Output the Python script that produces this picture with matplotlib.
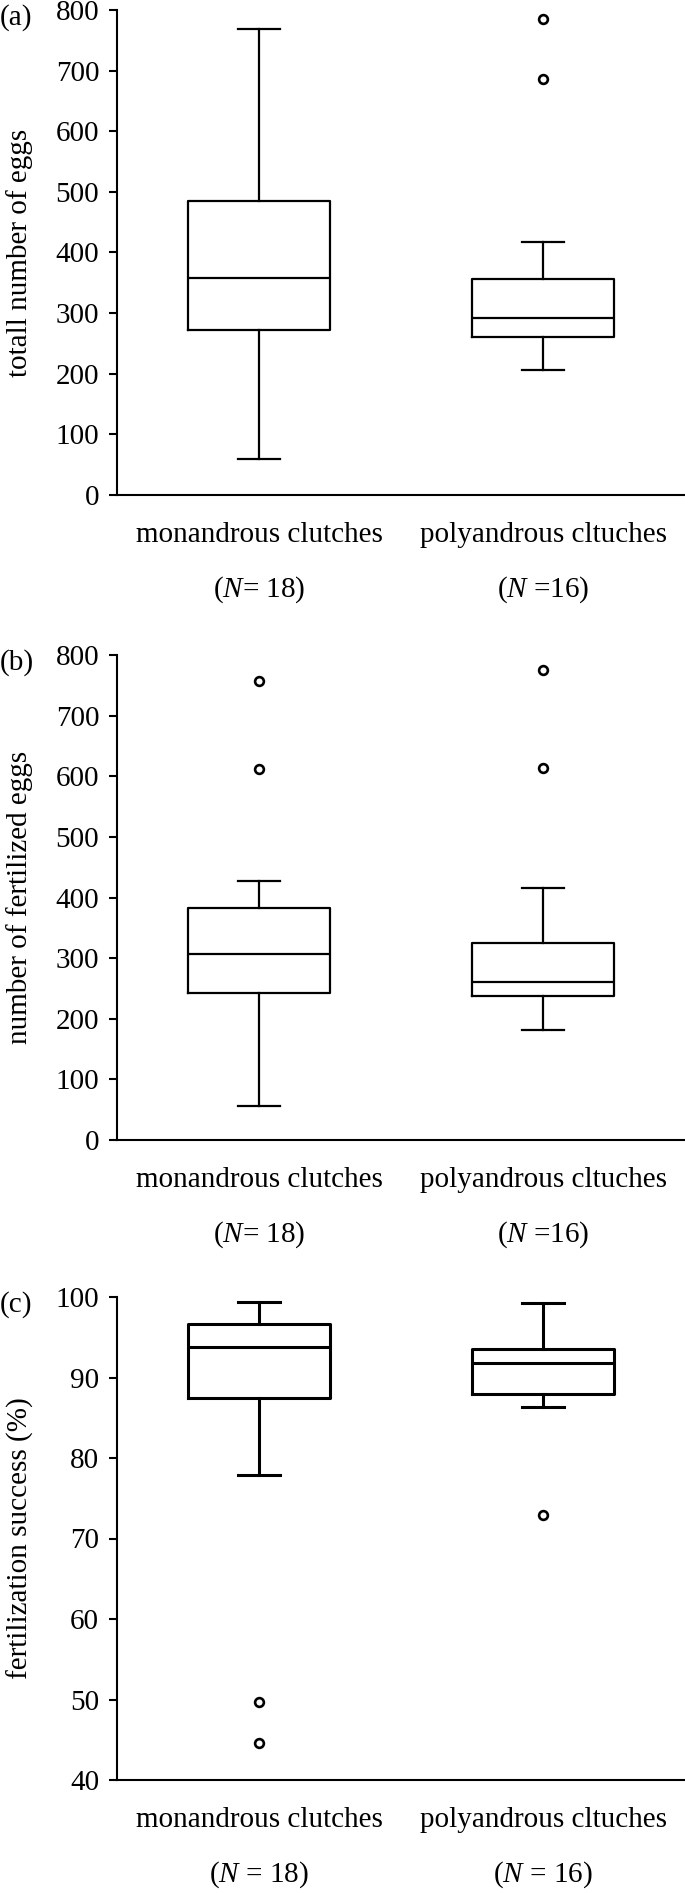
import matplotlib
matplotlib.use("Agg")
import matplotlib.pyplot as plt

plt.rcParams['font.family'] = ['Liberation Serif', 'DejaVu Serif']
plt.rcParams['mathtext.fontset'] = 'custom'
plt.rcParams['mathtext.rm'] = 'Liberation Serif'
plt.rcParams['mathtext.it'] = 'Liberation Serif:italic'

# ---- data ----
categories = ["monandrous clutches", "polyandrous cltuches"]

# panel (a): total number of eggs  [low whisker, Q1, median, Q3, high whisker]
eggs_mono = [60, 272, 358, 485, 768]
eggs_poly = [207, 261, 292, 356, 418]
eggs_mono_out = []
eggs_poly_out = [686, 785]

# panel (b): number of fertilized eggs
fert_mono = [56, 243, 307, 382, 428]
fert_poly = [181, 237, 260, 325, 415]
fert_mono_out = [612, 757]
fert_poly_out = [613, 775]

# panel (c): fertilization success (%)
succ_mono = [77.9, 87.4, 93.8, 96.6, 99.4]
succ_poly = [86.3, 87.9, 91.8, 93.6, 99.3]
succ_mono_out = [49.7, 44.6]
succ_poly_out = [72.9]

n_labels_ab = [r"($\mathit{N}$= 18)", r"($\mathit{N}$ =16)"]
n_labels_c = [r"($\mathit{N}$ = 18)", r"($\mathit{N}$ = 16)"]

panels = [
    dict(tag="(a)", ylabel="totall number of eggs", ylim=(0, 800), ticks=list(range(0, 801, 100)),
         boxes=[(eggs_mono, eggs_mono_out), (eggs_poly, eggs_poly_out)], nlab=n_labels_ab,
         rect=(10, 495), lw=1.6),
    dict(tag="(b)", ylabel="number of fertilized eggs", ylim=(0, 800), ticks=list(range(0, 801, 100)),
         boxes=[(fert_mono, fert_mono_out), (fert_poly, fert_poly_out)], nlab=n_labels_ab,
         rect=(655, 1140), lw=1.6),
    dict(tag="(c)", ylabel="fertilization success (%)", ylim=(40, 100), ticks=list(range(40, 101, 10)),
         boxes=[(succ_mono, succ_mono_out), (succ_poly, succ_poly_out)], nlab=n_labels_c,
         rect=(1297, 1780), lw=2.2),
]

W, H = 685, 1893
fig = plt.figure(figsize=(W / 100, H / 100), dpi=100)
FS = 21
left_px = 117

for p in panels:
    top, bot = p["rect"]
    ax = fig.add_axes([left_px / W, 1 - bot / H, 1 - left_px / W, (bot - top) / H])
    stats = []
    for vals, outs in p["boxes"]:
        lo, q1, med, q3, hi = vals
        stats.append(dict(whislo=lo, q1=q1, med=med, q3=q3, whishi=hi, fliers=outs))
    lw = p["lw"]
    ax.bxp(stats, positions=[1, 2], widths=0.5, capwidths=0.145, showfliers=True,
           boxprops=dict(color="black", linewidth=lw),
           whiskerprops=dict(color="black", linewidth=lw),
           capprops=dict(color="black", linewidth=lw),
           medianprops=dict(color="black", linewidth=lw),
           flierprops=dict(marker="o", markersize=6.3, markerfacecolor="white",
                           markeredgecolor="black", markeredgewidth=1.9))
    ax.set_xlim(0.5, 2.5)
    ax.set_ylim(*p["ylim"])
    ax.set_yticks(p["ticks"])
    ax.set_yticklabels([str(t) for t in p["ticks"]], fontsize=FS)
    ax.tick_params(axis="y", direction="out", length=5.8, width=1.5, pad=7)
    ax.set_xticks([])
    for s in ("top", "right"):
        ax.spines[s].set_visible(False)
    for s in ("left", "bottom"):
        ax.spines[s].set_linewidth(1.5)
    ax.spines["left"].set_zorder(5)
    ax.set_ylabel(p["ylabel"], fontsize=FS, va="center")
    ax.yaxis.set_label_coords((20 - left_px) / (W - left_px), 0.5)
    for i, (cat, nl) in enumerate(zip(categories, p["nlab"])):
        ax.annotate(cat, xy=(i + 1, 0), xycoords=("data", "axes fraction"),
                    xytext=(0, -40 * 0.72), textcoords="offset points",
                    ha="center", va="center", fontsize=FS)
        ax.annotate(nl, xy=(i + 1, 0), xycoords=("data", "axes fraction"),
                    xytext=(0, -95 * 0.72), textcoords="offset points",
                    ha="center", va="center", fontsize=FS)
    fig.text(0.0, 1 - (top + 8) / H, p["tag"], fontsize=FS, ha="left", va="center")

fig.savefig("out.png", dpi=100)
